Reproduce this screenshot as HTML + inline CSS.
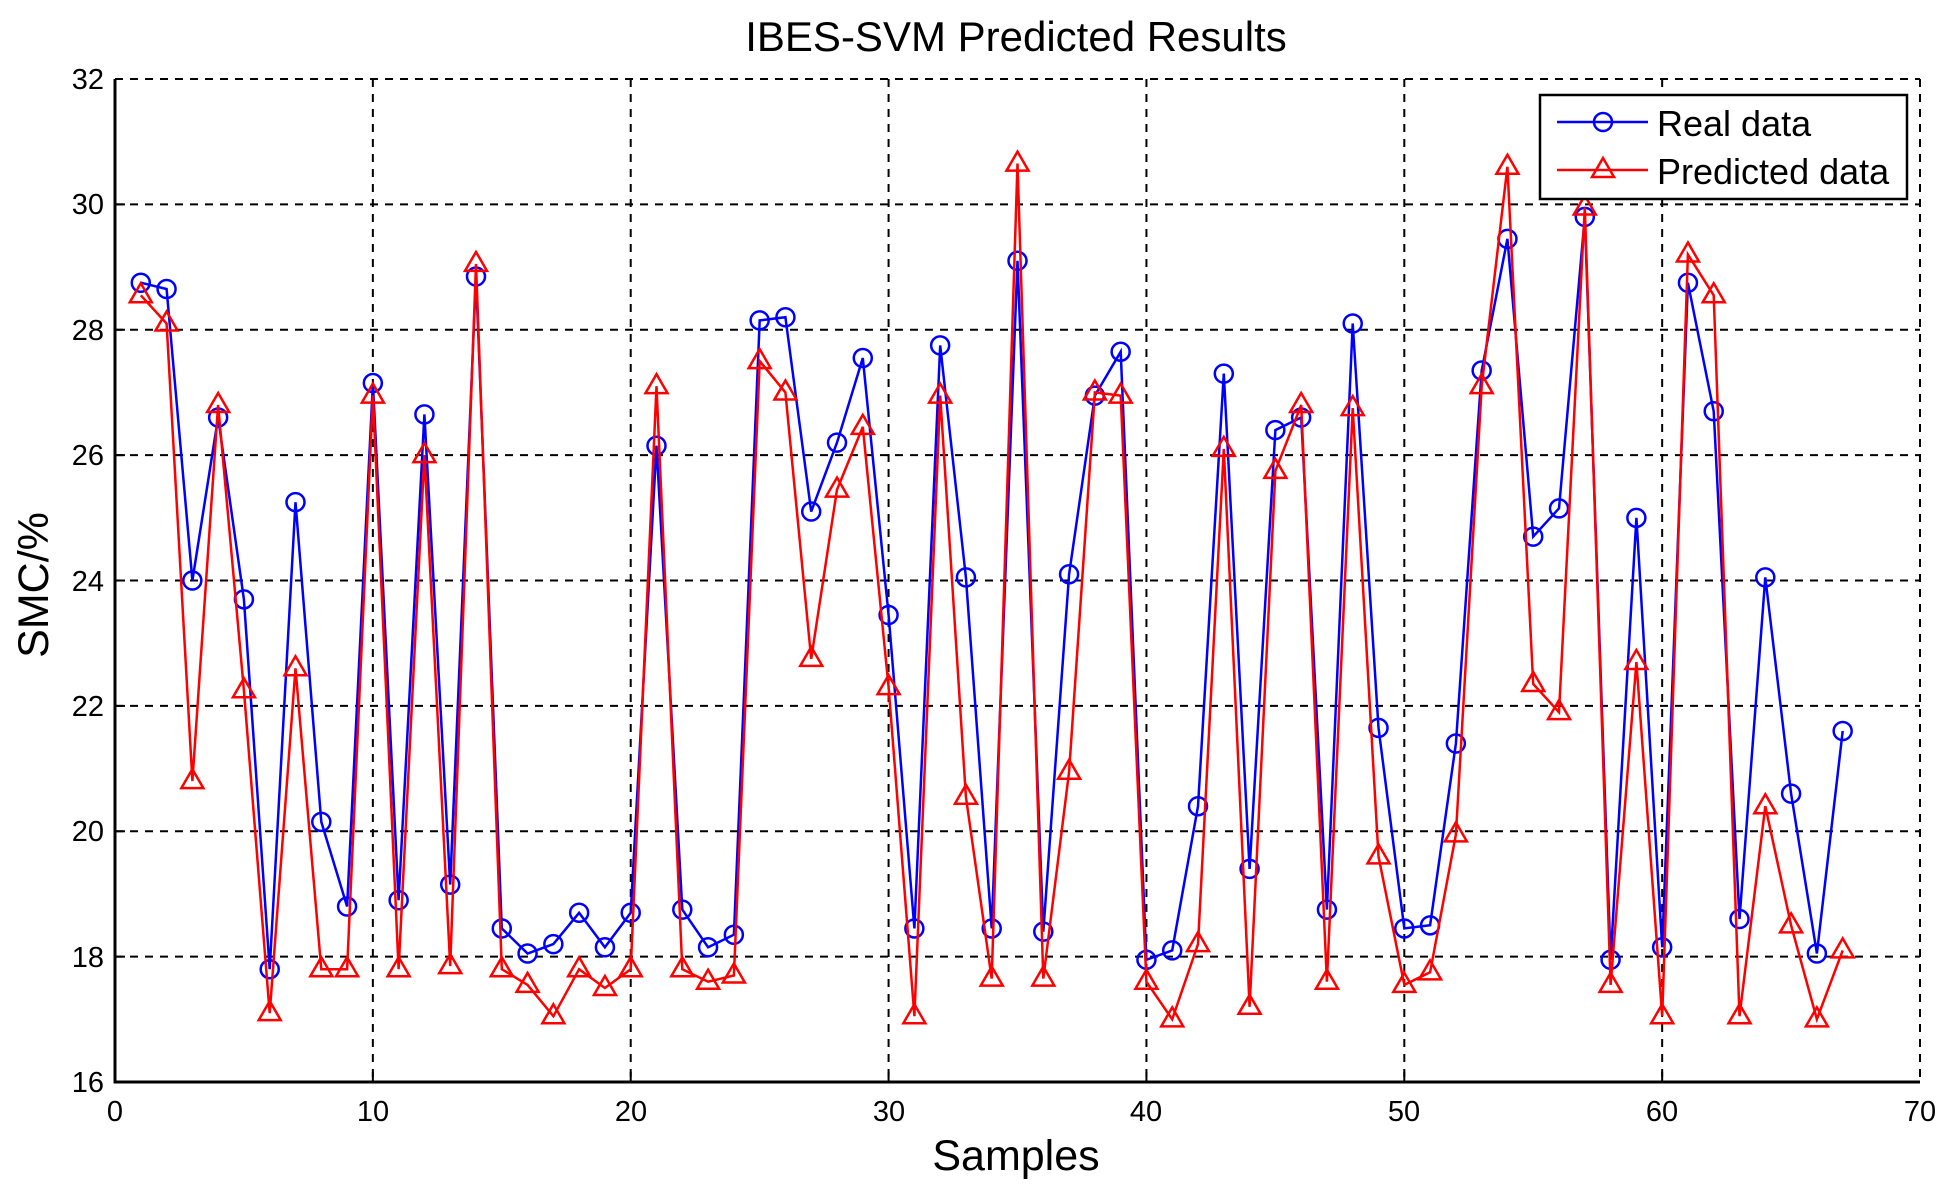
<!DOCTYPE html>
<html><head><meta charset="utf-8"><style>
html,body{margin:0;padding:0;background:#fff}
svg{display:block;font-family:"Liberation Sans",Arial,sans-serif}
</style></head><body>
<svg id="s" width="1956" height="1191" viewBox="0 0 1956 1191" xmlns="http://www.w3.org/2000/svg">
<rect width="1956" height="1191" fill="#fff"/>
<g id="grid" stroke="#000" stroke-width="2" stroke-dasharray="8,7" fill="none"></g>
<g id="series"></g>
<path d="M115 79 V1082 H1920" stroke="#000" stroke-width="3" fill="none"/>
<g id="ticks" stroke="#000" stroke-width="2"></g>
<text x="1016" y="51" font-size="42" text-anchor="middle">IBES-SVM Predicted Results</text>
<text x="1016" y="1170" font-size="43" text-anchor="middle">Samples</text>
<text transform="translate(48,585) rotate(-90)" font-size="43" text-anchor="middle">SMC/%</text>
<g font-size="29" text-anchor="end">
<text x="104" y="89">32</text><text x="104" y="214">30</text><text x="104" y="340">28</text>
<text x="104" y="465">26</text><text x="104" y="591">24</text><text x="104" y="716">22</text>
<text x="104" y="841">20</text><text x="104" y="967">18</text><text x="104" y="1092">16</text>
</g>
<g font-size="29" text-anchor="middle">
<text x="115" y="1121">0</text><text x="373" y="1121">10</text><text x="631" y="1121">20</text>
<text x="889" y="1121">30</text><text x="1146" y="1121">40</text><text x="1404" y="1121">50</text>
<text x="1662" y="1121">60</text><text x="1920" y="1121">70</text>
</g>
<rect x="1540" y="95" width="367" height="104" fill="#fff" stroke="#000" stroke-width="2.5"/>
<line x1="1557" y1="122" x2="1648" y2="122" stroke="#00f" stroke-width="2.5"/>
<circle cx="1603" cy="122" r="9" fill="none" stroke="#00f" stroke-width="2.5"/>
<line x1="1557" y1="170" x2="1648" y2="170" stroke="#f00" stroke-width="2.5"/>
<path d="M1592 177 L1614 177 L1603 158 Z" fill="none" stroke="#f00" stroke-width="2.5"/>
<text x="1657" y="136" font-size="36">Real data</text>
<text x="1657" y="184" font-size="36">Predicted data</text>
</svg>
<script>
var R=[28.75,28.65,24.0,26.6,23.7,17.8,25.25,20.15,18.8,27.15,18.9,26.65,19.15,28.85,18.45,18.05,18.2,18.7,18.15,18.7,26.15,18.75,18.15,18.35,28.15,28.2,25.1,26.2,27.55,23.45,18.45,27.75,24.05,18.45,29.1,18.4,24.1,26.95,27.65,17.95,18.1,20.4,27.3,19.4,26.4,26.6,18.75,28.1,21.65,18.45,18.5,21.4,27.35,29.45,24.7,25.15,29.8,17.95,25.0,18.15,28.75,26.7,18.6,24.05,20.6,18.05,21.6];
var P=[28.55,28.1,20.8,26.8,22.25,17.1,22.6,17.8,17.8,26.95,17.8,26.0,17.85,29.05,17.8,17.55,17.05,17.8,17.5,17.8,27.1,17.8,17.6,17.7,27.5,27.0,22.75,25.45,26.45,22.3,17.05,26.95,20.55,17.65,30.65,17.65,20.95,27.0,26.95,17.6,17.0,18.2,26.1,17.2,25.75,26.8,17.6,26.75,19.6,17.55,17.75,19.95,27.1,30.6,22.35,21.9,29.95,17.55,22.7,17.05,29.2,28.55,17.05,20.4,18.5,17.0,18.1];
function X(i){return 115+i*25.786}function Y(v){return 79+(32-v)*62.69}
var g='',t='',s='';
for(var k=1;k<7;k++){g+='<line x1="'+X(k*10)+'" y1="79" x2="'+X(k*10)+'" y2="1082"/>';}
g+='<line x1="1920" y1="79" x2="1920" y2="1082"/>';
for(var v=18;v<=32;v+=2){g+='<line x1="115" y1="'+Y(v)+'" x2="1920" y2="'+Y(v)+'"/>';}
document.getElementById('grid').innerHTML=g;
for(var k=1;k<7;k++){t+='<line x1="'+X(k*10)+'" y1="1082" x2="'+X(k*10)+'" y2="1072"/>';}
for(var v=18;v<=30;v+=2){t+='<line x1="115" y1="'+Y(v)+'" x2="125" y2="'+Y(v)+'"/>';}
document.getElementById('ticks').innerHTML=t;
function pts(a){return a.map(function(v,i){return X(i+1).toFixed(1)+','+Y(v).toFixed(1)}).join(' ')}
s+='<polyline points="'+pts(R)+'" fill="none" stroke="#00f" stroke-width="2.5"/>';
R.forEach(function(v,i){s+='<circle cx="'+X(i+1)+'" cy="'+Y(v)+'" r="9" fill="none" stroke="#00f" stroke-width="2.5"/>';});
s+='<polyline points="'+pts(P)+'" fill="none" stroke="#f00" stroke-width="2.5"/>';
P.forEach(function(v,i){var x=X(i+1),y=Y(v);s+='<path d="M'+(x-11)+' '+(y+7)+' L'+(x+11)+' '+(y+7)+' L'+x+' '+(y-12)+' Z" fill="none" stroke="#f00" stroke-width="2.5"/>';});
document.getElementById('series').innerHTML=s;
</script>
</body></html>
